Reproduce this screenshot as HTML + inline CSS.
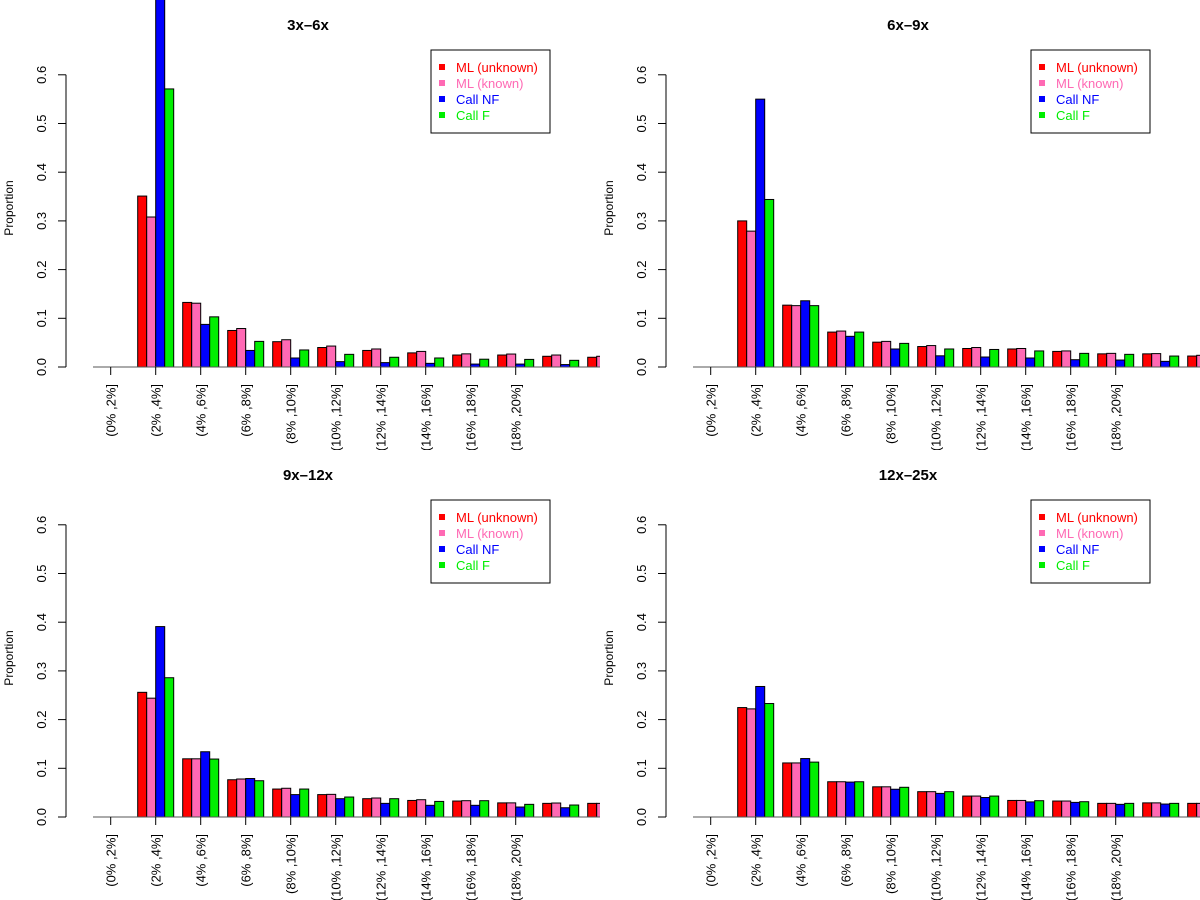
<!DOCTYPE html>
<html><head><meta charset="utf-8"><style>
html,body{margin:0;padding:0;background:#fff;}
svg{display:block;font-family:"Liberation Sans",Arial,sans-serif;}
</style></head><body>
<svg id="chart" width="1200" height="900" viewBox="0 0 1200 900" xmlns="http://www.w3.org/2000/svg"></svg>
<script>
const panelTitles = ["3x\u20136x","6x\u20139x","9x\u201312x","12x\u201325x"];
const categories = ["(0% ,2%]","(2% ,4%]","(4% ,6%]","(6% ,8%]","(8% ,10%]","(10% ,12%]","(12% ,14%]","(14% ,16%]","(16% ,18%]","(18% ,20%]"];
const seriesNames = ["ML (unknown)","ML (known)","Call NF","Call F"];
const yTicks = [0,0.1,0.2,0.3,0.4,0.5,0.6];
const yTickLabels = ["0.0","0.1","0.2","0.3","0.4","0.5","0.6"];
// panel 1: 3x-6x
const p1MLunknown = [0,0.351,0.1326,0.075,0.052,0.040,0.034,0.029,0.0246,0.0246,0.022,0.020];
const p1MLknown   = [0,0.308,0.131,0.079,0.056,0.043,0.037,0.032,0.027,0.0266,0.0246,0.022];
const p1CallNF    = [0,0.78,0.0875,0.034,0.0185,0.011,0.009,0.0075,0.006,0.006,0.005,0.004];
const p1CallF     = [0,0.571,0.103,0.0526,0.035,0.026,0.020,0.0185,0.016,0.0156,0.0137,0.012];
// panel 2: 6x-9x
const p2MLunknown = [0,0.30,0.127,0.0717,0.051,0.042,0.038,0.037,0.032,0.027,0.027,0.0225];
const p2MLknown   = [0,0.279,0.126,0.0738,0.0526,0.044,0.040,0.038,0.033,0.028,0.0275,0.024];
const p2CallNF    = [0,0.55,0.136,0.063,0.037,0.023,0.0205,0.0185,0.015,0.0143,0.0116,0.011];
const p2CallF     = [0,0.344,0.126,0.0717,0.0485,0.037,0.036,0.033,0.028,0.026,0.0225,0.02];
// panel 3: 9x-12x
const p3MLunknown = [0,0.256,0.1195,0.0765,0.0574,0.046,0.0376,0.034,0.0328,0.029,0.028,0.028];
const p3MLknown   = [0,0.244,0.1195,0.078,0.059,0.0465,0.039,0.0355,0.0335,0.029,0.0287,0.028];
const p3CallNF    = [0,0.391,0.134,0.079,0.046,0.0376,0.028,0.024,0.024,0.0205,0.019,0.018];
const p3CallF     = [0,0.286,0.119,0.0745,0.0574,0.041,0.0376,0.032,0.0335,0.026,0.0246,0.024];
// panel 4: 12x-25x
const p4MLunknown = [0,0.2247,0.111,0.0724,0.062,0.052,0.043,0.034,0.0328,0.028,0.029,0.028];
const p4MLknown   = [0,0.222,0.111,0.0724,0.062,0.052,0.043,0.034,0.0328,0.028,0.029,0.028];
const p4CallNF    = [0,0.268,0.120,0.0717,0.057,0.0485,0.040,0.031,0.030,0.026,0.0266,0.026];
const p4CallF     = [0,0.233,0.1127,0.0724,0.061,0.052,0.043,0.0335,0.0314,0.028,0.028,0.027];

const panels = [
  [p1MLunknown,p1MLknown,p1CallNF,p1CallF],
  [p2MLunknown,p2MLknown,p2CallNF,p2CallF],
  [p3MLunknown,p3MLknown,p3CallNF,p3CallF],
  [p4MLunknown,p4MLknown,p4CallNF,p4CallF]
];
const colors = ["#ff0000","#ff69b4","#0000ff","#00ee00"];
const textColors = ["#ff0000","#ff69b4","#0000ff","#00ee00"];

const NS = "http://www.w3.org/2000/svg";
const svg = document.getElementById("chart");
function mk(tag, attrs, parent){
  const e = document.createElementNS(NS, tag);
  for (const k in attrs) e.setAttribute(k, attrs[k]);
  parent.appendChild(e);
  return e;
}
const BASE = 367, UNIT = 487, BARW = 9, STEP = 45, X0 = 92.7;
function yScale(v){ return BASE - v*UNIT; }
function groupLeft(i){ return X0 + i*STEP; }
function barX(i, s){ return groupLeft(i) + s*BARW; }
function tickX(i){ return groupLeft(i) + 2*BARW; }

const defs = mk("defs", {}, svg);
const cp = mk("clipPath", {id:"pclip"}, defs);
mk("rect", {x:0, y:0, width:600, height:450}, cp);

panels.forEach((data, p) => {
  const ox = (p % 2) * 600, oy = Math.floor(p / 2) * 450;
  const g = mk("g", {transform:`translate(${ox},${oy})`, "clip-path":"url(#pclip)"}, svg);
  
  

  const t = mk("text", {x:308, y:30, "text-anchor":"middle", "font-size":15, "font-weight":"bold"}, g);
  t.textContent = panelTitles[p];
  
  

  const yl = mk("text", {x:0, y:0, transform:"translate(13,208) rotate(-90)", "text-anchor":"middle", "font-size":12}, g);
  yl.textContent = "Proportion";
  
  

  // bars
  data.forEach((series, s) => {
    series.forEach((v, i) => {
      if (v <= 0) return;
      const y = yScale(v);
      const r = mk("rect", {x:barX(i,s), y:y, width:BARW, height:BASE - y, fill:colors[s], stroke:"#000", "stroke-width":1}, g);
      
      
    });
  });

  // y axis
  const ya = mk("g", {}, g);
  
  
  mk("line", {x1:66, x2:66, y1:yScale(yTicks[0]), y2:yScale(yTicks[yTicks.length-1]), stroke:"#000"}, ya);
  yTicks.forEach((v, k) => {
    const y = yScale(v);
    mk("line", {x1:58, x2:66, y1:y, y2:y, stroke:"#000"}, ya);
    const tl = mk("text", {x:0, y:0, transform:`translate(46,${y}) rotate(-90)`, "text-anchor":"middle", "font-size":13}, ya);
    tl.textContent = yTickLabels[k];
    
    
  });

  // x axis
  const xa = mk("g", {}, g);
  
  
  mk("line", {x1:93, x2:620, y1:BASE, y2:BASE, stroke:"#555"}, xa);
  categories.forEach((c, i) => {
    const x = tickX(i);
    mk("line", {x1:x, x2:x, y1:BASE, y2:BASE+8, stroke:"#000"}, xa);
    const tl = mk("text", {x:0, y:0, transform:`translate(${x+5},384) rotate(-90)`, "text-anchor":"end", "font-size":13}, xa);
    tl.textContent = c;
    
    
  });

  // legend
  const lg = mk("g", {}, g);
  
  
  mk("rect", {x:431, y:50, width:119, height:83, fill:"#fff", stroke:"#000"}, lg);
  seriesNames.forEach((n, s) => {
    const y = 67 + s*16;
    const sq = mk("rect", {x:439, y:y-3, width:6, height:6, fill:colors[s]}, lg);
    
    
    const lt = mk("text", {x:456, y:y+5, "font-size":13, fill:textColors[s]}, lg);
    lt.textContent = n;
    
    
  });
});
</script>
</body></html>
